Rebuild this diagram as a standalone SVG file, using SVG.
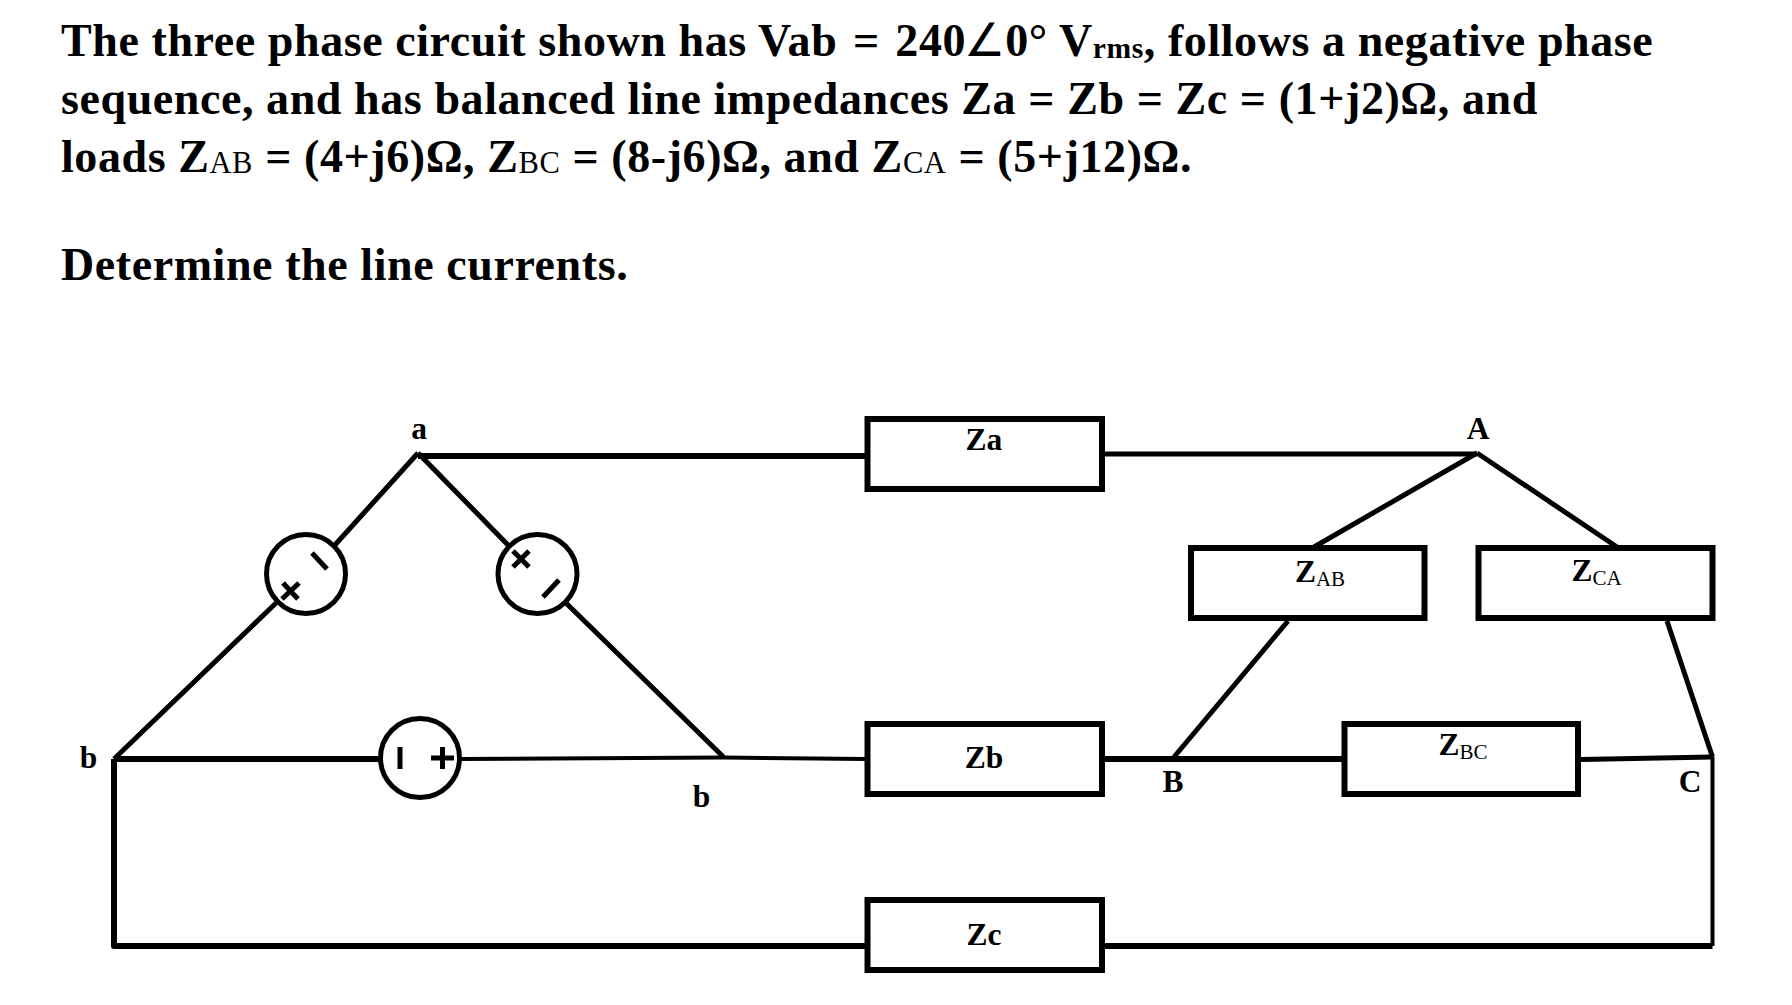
<svg xmlns="http://www.w3.org/2000/svg" width="1792" height="1005" viewBox="0 0 1792 1005">
<style>
text{font-family:"Liberation Serif","Times New Roman",serif;font-weight:bold;fill:#000}
.q{font-size:46px;letter-spacing:.58px}
.qs{font-size:30.500px;font-weight:normal}
.qr{font-size:29.500px}
.n{font-weight:normal}
.l{font-size:31.500px;text-anchor:middle}
.s{font-size:21px;font-weight:normal}
.w{fill:none;stroke:#000;stroke-width:5;stroke-linecap:butt;stroke-linejoin:round}
.t{stroke-width:6}
.f{stroke-width:4}
.box{fill:#fff;stroke:#000;stroke-width:6}
.src{fill:#fff;stroke:#000;stroke-width:5}
.sym{fill:none;stroke:#000;stroke-width:5}
</style>
<rect width="1792" height="1005" fill="#fff"/>
<g id="problem">
<text class="q" x="61" y="56">The three phase circuit shown has Vab <tspan dx="3.500">= </tspan><tspan dx="3.500">240</tspan><tspan class="n" dx="-2.400">∠</tspan>0° V<tspan class="qr" dy="2">rms</tspan><tspan dy="-2">, follows a negative phase</tspan></text>
<text class="q" x="61" y="114">sequence, and has balanced line impedances Za = Zb = Zc = (1+j2)Ω, and</text>
<text class="q" x="61" y="172">loads Z<tspan class="qs" dy="1">AB</tspan><tspan dy="-1"> = (4+j6)Ω, Z</tspan><tspan class="qs" dy="1">BC</tspan><tspan dy="-1"> = (8-j6)Ω, and Z</tspan><tspan class="qs" dy="1">CA</tspan><tspan dy="-1"> = (5+j12)Ω.</tspan></text>
<text class="q" x="61" y="280">Determine the line currents.</text>
</g>
<g id="connectors">
<path class="w t" d="M418 456H866"/>
<path class="w" d="M418 453L334 546M276 603L114 759"/>
<path class="w" d="M418 453L509 546M566 603L723.500 757"/>
<path class="w t" d="M114 759H380"/>
<path class="w f" d="M458 759L723.500 757.500L866 759"/>
<path class="w" d="M1104 454H1477"/>
<path class="w" d="M1477 453L1314 547M1477 453L1617 547"/>
<path class="w" d="M1288 621L1174 757"/>
<path class="w" d="M1667 621L1712.500 757"/>
<path class="w t" d="M1104 759H1342"/>
<path class="w" d="M1581 759.500L1712.500 757"/>
<path class="w f" d="M1712.500 757V946"/>
<path class="w t" d="M114 759V946H866M1104 946H1712.500"/>
</g>
<g id="source-ab">
<circle class="src" cx="306" cy="574" r="39.500"/>
<path class="sym" d="M283 583L298 599M299 583L282 599M312 553L327 569"/>
</g>
<g id="source-ca">
<circle class="src" cx="537.500" cy="574" r="39.500"/>
<path class="sym" d="M513 551L529 567M529 551L513 567M559 580L543 597"/>
</g>
<g id="source-bc">
<circle class="src" cx="420" cy="758" r="39.500"/>
<path class="sym" d="M400 747V769M431 758H454M442.500 747V769"/>
</g>
<g id="node-a"><text class="l" x="419" y="439">a</text></g>
<g id="node-b-left"><text class="l" x="88.500" y="768">b</text></g>
<g id="node-b-right"><text class="l" x="701.500" y="807">b</text></g>
<g id="node-A"><text class="l" x="1478" y="439">A</text></g>
<g id="node-B"><text class="l" x="1173" y="792">B</text></g>
<g id="node-C"><text class="l" x="1690" y="792">C</text></g>
<g id="Za"><rect class="box" x="867.500" y="419" width="234.500" height="70"/><text class="l" x="984" y="450">Za</text></g>
<g id="Zb"><rect class="box" x="867.500" y="724" width="234.500" height="70"/><text class="l" x="984" y="768">Zb</text></g>
<g id="Zc"><rect class="box" x="867.500" y="900" width="234.500" height="70"/><text class="l" x="984" y="945">Zc</text></g>
<g id="ZAB"><rect class="box" x="1191" y="548" width="233.500" height="70"/><text class="l" x="1320" y="581.500">Z<tspan class="s" dy="4">AB</tspan></text></g>
<g id="ZCA"><rect class="box" x="1478.500" y="548" width="234" height="70"/><text class="l" x="1596.500" y="581">Z<tspan class="s" dy="4">CA</tspan></text></g>
<g id="ZBC"><rect class="box" x="1344.500" y="724" width="233.500" height="70"/><text class="l" x="1463" y="755">Z<tspan class="s" dy="4">BC</tspan></text></g>
</svg>
